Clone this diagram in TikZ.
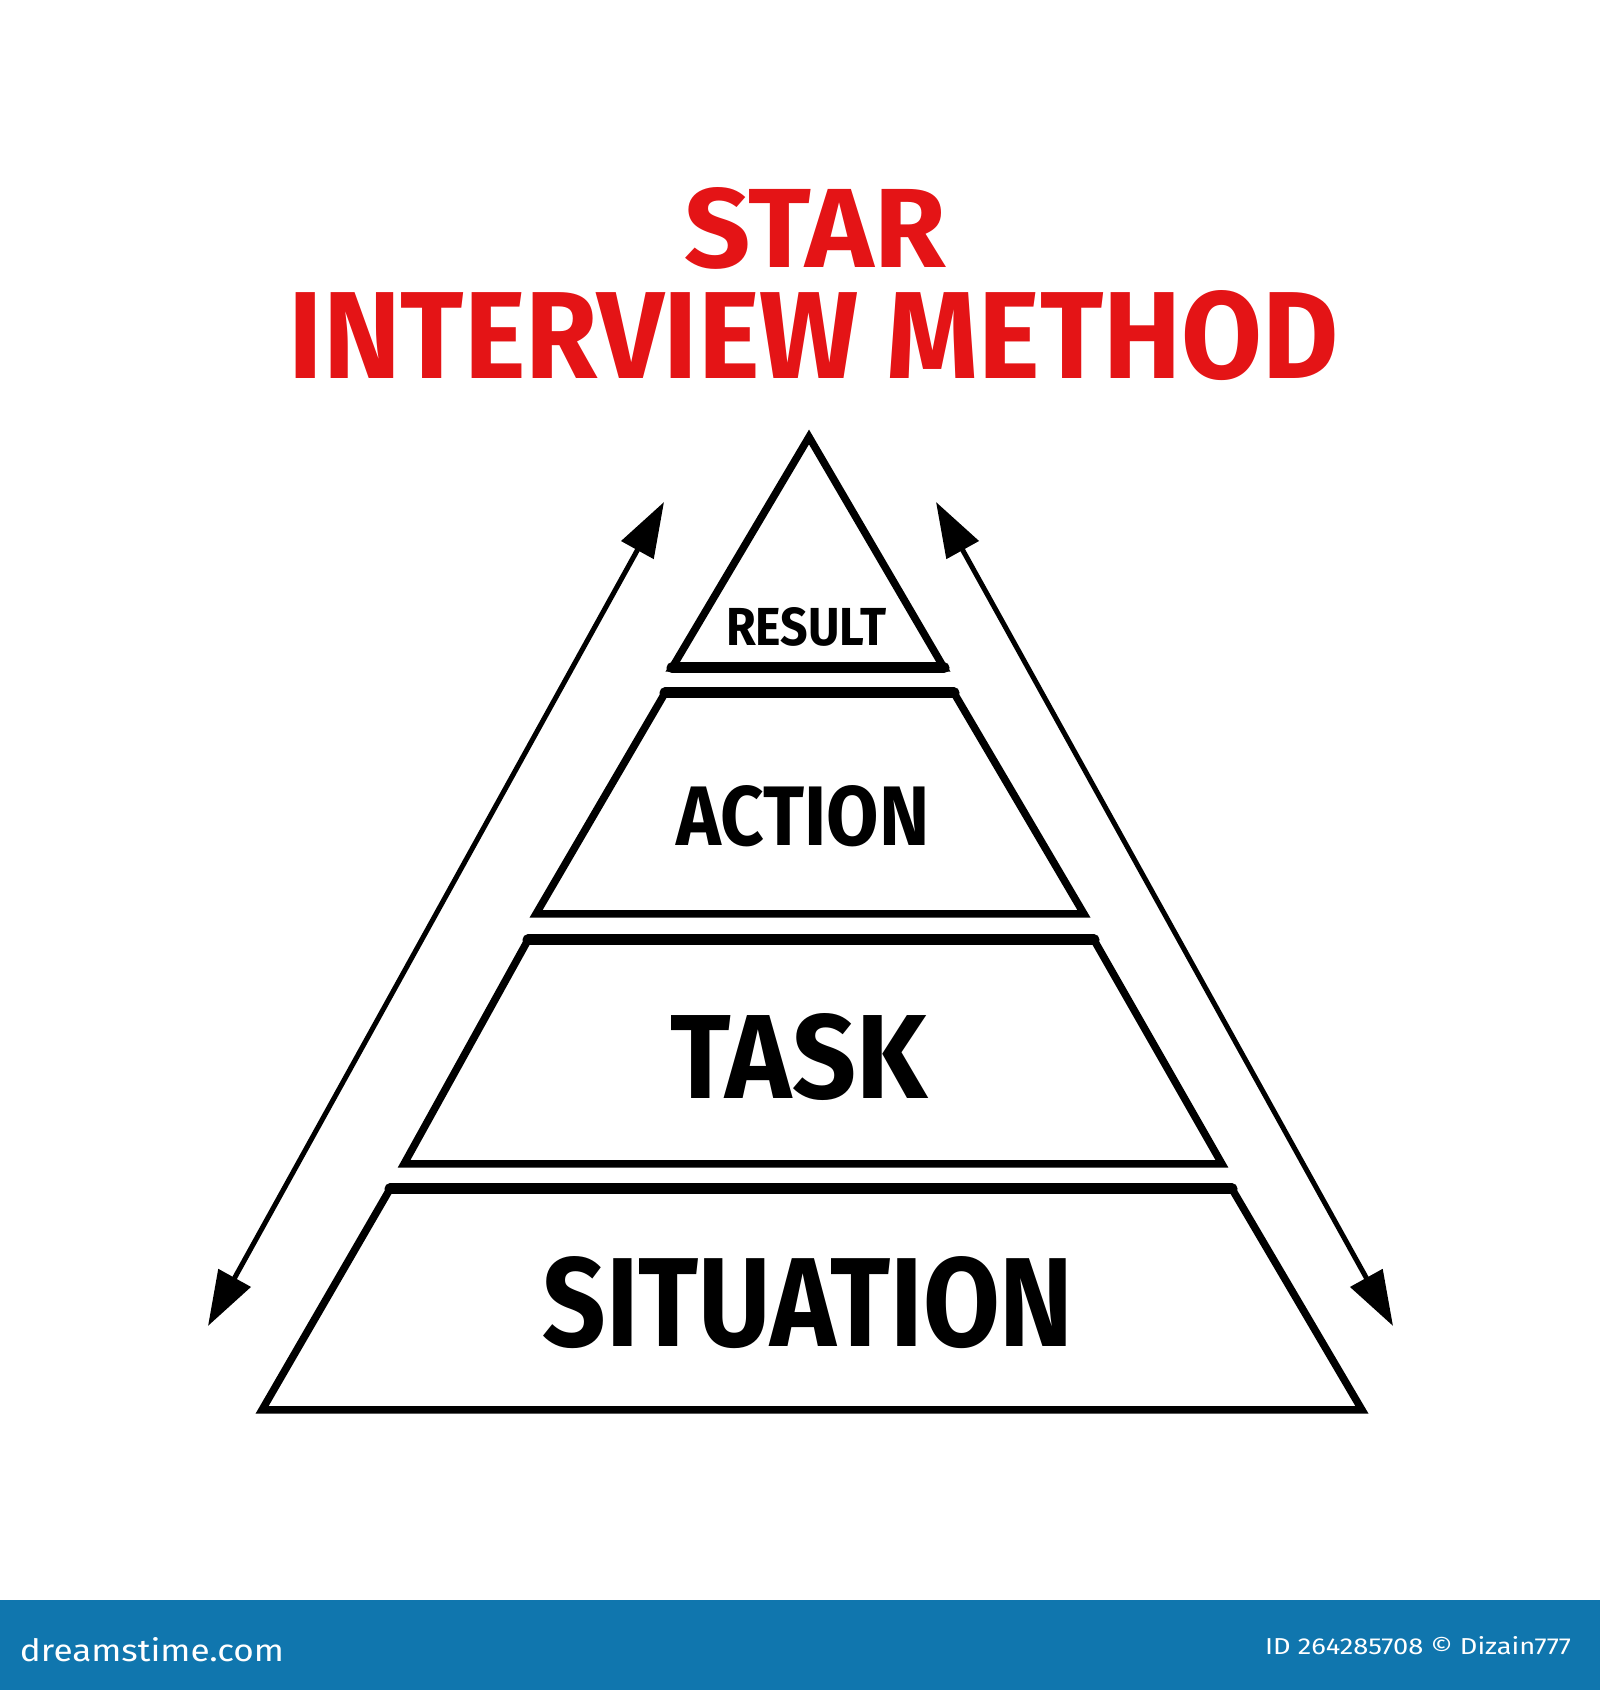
\documentclass[tikz,border=0pt]{standalone}
\usepackage{fontspec}
\setmainfont{Fira Sans}
\usepackage{graphicx}
\usetikzlibrary{arrows.meta}
\definecolor{titlered}{RGB}{228,20,22}
\definecolor{barblue}{RGB}{16,118,174}
\def\fitword(#1:#2)#3{\resizebox{#1cm}{#2cm}{#3}}
\tikzset{
	layer/.style={line width=0.75mm, line join=miter},
	topedge/.style={line width=1.1mm, line cap=round},
	growarrow/.style={line width=0.5mm, {Triangle[length=5.5mm,width=3.6mm]}-{Triangle[length=5.5mm,width=3.6mm]}},
}

\begin{document}
\begin{tikzpicture}
			%%%%% START %%%%%
			
			\useasboundingbox (0, 0) rectangle (16, 16.9);
			\fill[barblue] (0, 0) rectangle (16, 0.9);
			
			\node[text=titlered] (star) at (8.15, 14.62) {\fitword(2.61:0.80){\bfseries STAR}};
			\node[text=titlered] (method) at (8.14, 13.54) {\fitword(10.50:0.88){\bfseries INTERVIEW METHOD}};
			
			\draw[layer] (8.09, 12.53) -- (6.72, 10.22) -- (9.44, 10.22) -- cycle;
			\draw[topedge] (6.72, 10.22) -- (9.44, 10.22);
			\node (result) at (8.06, 10.63) {\fitword(1.60:0.38){\bfseries RESULT}};
			
			\draw[layer] (6.65, 9.97) -- (5.36, 7.76) -- (10.84, 7.76) -- (9.54, 9.97) -- cycle;
			\draw[topedge] (6.65, 9.97) -- (9.54, 9.97);
			\node (action) at (8.03, 8.74) {\fitword(2.53:0.60){\bfseries ACTION}};
			
			\draw[layer] (5.28, 7.50) -- (4.04, 5.26) -- (12.22, 5.26) -- (10.94, 7.50) -- cycle;
			\draw[topedge] (5.28, 7.50) -- (10.94, 7.50);
			\node (task) at (7.99, 6.33) {\fitword(2.56:0.85){\bfseries TASK}};
			
			\draw[layer] (3.90, 5.01) -- (2.62, 2.80) -- (13.62, 2.80) -- (12.32, 5.01) -- cycle;
			\draw[topedge] (3.90, 5.01) -- (12.32, 5.01);
			\node (situation) at (8.08, 3.87) {\fitword(5.31:0.90){\bfseries SITUATION}};
			
			\draw[growarrow] (6.64, 11.88) -- (2.08, 3.64);
			\draw[growarrow] (9.36, 11.88) -- (13.93, 3.64);
			
			\node[text=white] (site) at (1.52, 0.40) {\fitword(2.64:0.24){dreamstime.com}};
			\node[text=white] (credit) at (14.18, 0.44) {\fitword(3.06:0.18){ID 264285708 © Dizain777}};
			
			%%%%% END %%%%%
\end{tikzpicture}
\end{document}
